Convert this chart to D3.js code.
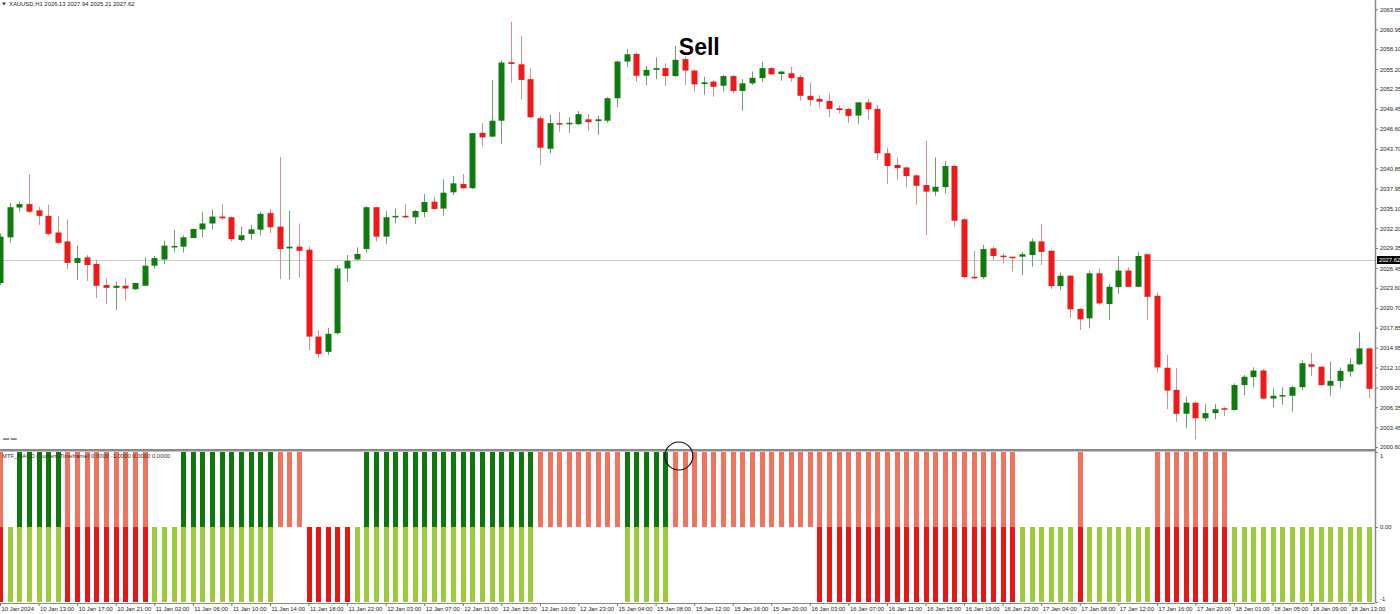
<!DOCTYPE html>
<html><head><meta charset="utf-8">
<script src="https://cdn.jsdelivr.net/npm/d3@7"></script>
<style>body{margin:0;background:#fff;} svg{display:block;font-family:"Liberation Sans",Arial,sans-serif;}</style>
</head><body>
<svg id="chart" width="1400" height="614"></svg>
<script>
// ---------- DATA ----------
const opens  = [2024.3,2030.9,2035.2,2035.7,2034.8,2034.0,2031.6,2030.3,2027.2,2028.0,2027.05,2024.0,2023.6,2023.9,2023.4,2023.9,2026.8,2027.7,2029.5,2029.55,2030.8,2032.05,2032.9,2033.9,2033.8,2030.5,2031.4,2032.0,2034.4,2032.45,2029.3,2029.55,2029.1,2016.55,2014.35,2017.05,2026.4,2027.7,2029.2,2035.25,2031.0,2033.8,2034.0,2033.8,2034.55,2036.05,2035.05,2037.4,2038.6,2038.0,2046.0,2045.45,2047.75,2056.2,2055.9,2053.75,2048.1,2043.7,2047.4,2047.3,2047.25,2047.95,2047.7,2047.75,2051.0,2056.3,2057.4,2054.25,2055.1,2055.35,2054.2,2056.65,2055.0,2053.05,2053.4,2052.8,2054.2,2052.05,2053.15,2053.9,2055.35,2054.5,2054.6,2054.05,2051.35,2050.9,2050.6,2049.55,2049.45,2048.5,2050.4,2049.45,2043.05,2041.35,2041.0,2039.85,2038.45,2037.5,2038.15,2041.2,2033.5,2025.2,2025.15,2029.3,2028.25,2028.1,2028.1,2028.35,2030.3,2028.95,2023.85,2025.35,2020.55,2019.2,2025.7,2021.25,2023.7,2026.1,2023.75,2028.45,2022.45,2012.05,2008.85,2005.4,2007.0,2004.75,2005.5,2006.2,2005.95,2009.55,2010.7,2011.65,2007.6,2007.9,2008.0,2009.25,2012.55,2012.2,2009.45,2010.15,2011.5,2012.55,2014.85];
const highs  = [2031.5,2035.9,2036.05,2040.05,2035.3,2035.6,2034.0,2033.5,2029.7,2028.35,2027.6,2025.0,2024.5,2025.0,2024.35,2028.0,2028.2,2030.4,2032.0,2031.2,2032.2,2034.6,2034.95,2035.7,2033.9,2032.45,2032.7,2034.6,2034.95,2042.5,2034.75,2032.9,2029.55,2017.5,2017.8,2026.9,2028.35,2029.45,2035.4,2035.3,2034.7,2035.05,2035.7,2034.85,2037.15,2036.7,2039.3,2039.75,2040.05,2046.0,2047.4,2053.65,2056.45,2062.05,2060.05,2055.35,2048.45,2048.6,2049.0,2048.25,2049.15,2048.7,2048.45,2051.15,2056.45,2058.1,2057.6,2055.65,2056.9,2056.05,2058.55,2057.0,2055.1,2054.1,2053.65,2054.35,2054.35,2053.75,2054.85,2056.3,2055.5,2054.95,2055.55,2054.35,2053.25,2051.45,2051.7,2050.0,2049.55,2050.5,2050.9,2050.0,2043.8,2042.45,2041.1,2040.05,2044.85,2042.45,2041.95,2041.35,2033.65,2028.95,2029.8,2029.55,2028.6,2028.1,2028.8,2030.75,2032.85,2029.1,2025.8,2025.45,2020.65,2026.1,2026.4,2024.15,2028.2,2026.6,2028.8,2028.5,2022.9,2013.9,2012.0,2007.9,2007.15,2006.8,2006.8,2006.35,2009.8,2011.0,2012.1,2011.85,2009.1,2009.2,2009.4,2013.1,2014.15,2012.3,2012.95,2012.1,2013.4,2017.25,2014.9];
const lows   = [2024.0,2030.1,2034.6,2034.4,2032.7,2031.2,2029.9,2026.3,2024.7,2024.6,2022.1,2021.3,2020.4,2021.75,2023.3,2023.85,2026.4,2027.05,2028.8,2028.7,2030.75,2030.9,2032.05,2033.4,2030.3,2030.3,2030.5,2031.2,2031.5,2024.85,2024.85,2025.1,2014.6,2013.5,2013.9,2016.8,2024.5,2027.5,2028.7,2030.3,2029.95,2032.9,2033.65,2032.8,2033.8,2034.85,2034.0,2037.0,2037.85,2037.9,2044.0,2045.4,2044.4,2053.25,2050.85,2048.1,2041.35,2043.05,2046.15,2046.0,2047.1,2046.3,2045.7,2047.45,2049.7,2055.5,2053.4,2052.9,2053.75,2052.8,2054.1,2052.9,2051.95,2051.5,2051.2,2051.95,2051.7,2049.2,2052.9,2053.4,2054.35,2053.55,2053.4,2050.65,2049.9,2049.7,2048.25,2048.8,2047.45,2047.3,2047.95,2042.1,2038.6,2039.2,2038.15,2035.6,2031.25,2036.9,2037.25,2032.45,2025.0,2024.85,2024.85,2027.6,2027.15,2025.95,2025.45,2026.65,2026.9,2023.4,2023.3,2019.2,2017.5,2017.75,2021.1,2018.95,2022.7,2023.7,2023.7,2018.95,2011.35,2006.05,2004.25,2003.3,2001.7,2004.4,2004.6,2005.1,2005.85,2008.1,2009.25,2007.5,2006.35,2006.7,2005.7,2008.85,2010.85,2009.4,2008.0,2009.1,2010.75,2012.45,2007.65];
const closes = [2031.0,2035.25,2035.7,2034.6,2034.0,2031.4,2030.1,2027.2,2027.9,2026.9,2023.9,2023.6,2023.9,2023.5,2024.3,2026.8,2027.9,2029.7,2029.65,2030.9,2032.1,2032.9,2033.9,2033.65,2030.65,2031.2,2032.05,2034.3,2032.35,2029.2,2029.55,2028.95,2016.55,2014.05,2016.95,2026.4,2027.5,2028.5,2035.25,2031.0,2033.8,2034.0,2033.8,2034.7,2036.0,2035.0,2037.35,2038.7,2038.0,2045.95,2045.35,2047.75,2056.15,2055.95,2053.65,2048.25,2043.85,2047.4,2047.25,2047.45,2048.7,2047.55,2047.95,2051.0,2056.3,2057.35,2054.25,2055.1,2055.35,2054.2,2056.55,2055.0,2053.0,2053.3,2052.65,2054.2,2052.05,2053.15,2053.95,2055.35,2054.45,2054.85,2053.9,2051.35,2050.75,2050.5,2049.45,2049.3,2048.45,2050.4,2049.4,2043.05,2041.2,2040.9,2039.75,2038.35,2037.5,2038.2,2041.2,2033.3,2025.15,2025.05,2029.2,2028.2,2028.05,2027.95,2028.45,2030.3,2028.8,2023.85,2025.35,2020.5,2019.05,2025.7,2021.35,2023.75,2026.1,2023.75,2028.2,2022.3,2012.1,2008.75,2005.4,2007.0,2004.75,2005.5,2006.05,2006.05,2009.55,2010.75,2011.65,2007.6,2008.0,2008.1,2009.25,2012.7,2012.2,2009.55,2010.15,2011.6,2012.55,2014.85,2009.0];

// MTF MACD indicator: run-length lists [state, count]
// upper half (+1): G = rising (dark green), S = falling (salmon), x = none
const macdUpperRuns = [["S",1],["x",1],["G",5],["S",9],["x",3],["G",10],["S",3],["x",6],["G",18],["S",9],["G",5],["S",36],["x",6],["S",1],["x",7],["S",8],["x",15]];
// lower half (-1): L = light green, R = red, x = none
const macdLowerRuns = [["R",1],["L",6],["R",9],["L",13],["x",3],["R",5],["L",19],["x",9],["L",5],["x",15],["R",21],["L",6],["R",1],["L",7],["R",8],["L",15]];

const timeLabels = ["10 Jan 2024","10 Jan 13:00","10 Jan 17:00","10 Jan 21:00","11 Jan 02:00","11 Jan 06:00","11 Jan 10:00","11 Jan 14:00","11 Jan 18:00","11 Jan 22:00","12 Jan 03:00","12 Jan 07:00","12 Jan 11:00","12 Jan 15:00","12 Jan 19:00","12 Jan 23:00","15 Jan 04:00","15 Jan 08:00","15 Jan 12:00","15 Jan 16:00","15 Jan 20:00","16 Jan 03:00","16 Jan 07:00","16 Jan 11:00","16 Jan 15:00","16 Jan 19:00","16 Jan 23:00","17 Jan 04:00","17 Jan 08:00","17 Jan 12:00","17 Jan 16:00","17 Jan 20:00","18 Jan 01:00","18 Jan 05:00","18 Jan 09:00","18 Jan 13:00"];
const priceTicks = [2063.85,2060.95,2058.10,2055.20,2052.35,2049.45,2046.60,2043.70,2040.85,2037.95,2035.10,2032.20,2029.35,2026.45,2023.60,2020.70,2017.85,2014.95,2012.10,2009.20,2006.35,2003.45,2000.60];
const macdTicks = [1, 0, -1];
const macdTickLabels = ["1","0.00","-1"];
const currentPrice = 2027.62;
const headerText = "XAUUSD,H1  2026.13 2027.94 2025.21 2027.62";
const indicatorText = "MTF_MACD (Current Timeframe) 0.0000 -1.0000 0.0000 0.0000";
const sellBar = 70;
const sellLabel = "Sell";

// ---------- BUILD ----------
const expand = runs => runs.flatMap(([s,n]) => Array(n).fill(s));
const macdUpper = expand(macdUpperRuns);
const macdLower = expand(macdLowerRuns);
const candles = opens.map((o,i)=>({i, o, h:highs[i], l:lows[i], c:closes[i]}));
const N = candles.length;

const svg = d3.select("#chart");
const axisX = 1375, mainBottom = 449, paneTop = 452, paneBottom = 602, axisY = 603;
const fs = 5.9, txt = "#222";

const x = d3.scaleLinear().domain([0, N-1]).range([0, 1369]);
const y = d3.scaleLinear().domain([2000.60, 2063.85]).range([447, 9.3]);
const yi = d3.scaleLinear().domain([-1, 1]).range([paneBottom, paneTop]);

const defs = svg.append("defs");
defs.append("clipPath").attr("id","clipMain").append("rect").attr("x",0).attr("y",0).attr("width",axisX).attr("height",mainBottom);
defs.append("clipPath").attr("id","clipPane").append("rect").attr("x",0).attr("y",paneTop-1).attr("width",axisX).attr("height",paneBottom-paneTop+1);

// current price line
svg.append("line").attr("x1",0).attr("x2",axisX).attr("y1",Math.round(y(currentPrice))+0.5).attr("y2",Math.round(y(currentPrice))+0.5)
  .attr("stroke","#c8c8c8").attr("stroke-width",1);

// candles
const gMain = svg.append("g").attr("clip-path","url(#clipMain)");
const bull = "#0f7b0f", bear = "#f01818";
const cg = gMain.selectAll("g.c").data(candles).join("g").attr("class","c");
cg.append("line")
  .attr("x1",d=>Math.round(x(d.i))+0.5).attr("x2",d=>Math.round(x(d.i))+0.5)
  .attr("y1",d=>y(d.h)).attr("y2",d=>y(d.l))
  .attr("stroke",d=>d.c>=d.o?"#6f9f6f":"#c89494").attr("stroke-width",1);
const bw = 6;
cg.append("rect")
  .attr("x",d=>Math.round(x(d.i))-bw/2+0.5)
  .attr("width",bw)
  .attr("y",d=>y(Math.max(d.o,d.c)))
  .attr("height",d=>Math.max(1.5, Math.abs(y(d.o)-y(d.c))))
  .attr("fill",d=>d.c>=d.o?bull:bear);

// Sell annotation
svg.append("text").attr("x",x(sellBar)+4).attr("y",y(2057.3))
  .attr("font-size",23).attr("font-weight","bold").attr("fill","#000").text(sellLabel);

// header
svg.append("path").attr("d","M2,2.5 L6,2.5 L4,5.5 Z").attr("fill","#333");
svg.append("text").attr("x",9).attr("y",6).attr("font-size",fs).attr("fill",txt).text(headerText);

// small window marks
svg.append("text").attr("x",3).attr("y",440).attr("font-size",6).attr("fill","#888").text("▬ ▬");

// indicator bars
const gPane = svg.append("g").attr("clip-path","url(#clipPane)");
const upColor = {G:"#0e780e", S:"#ef735e"};
const loColor = {L:"#9ccb3c", R:"#e51616"};
const ibw = 5;
gPane.selectAll("rect.up").data(macdUpper.map((s,i)=>({s,i})).filter(d=>d.s!=="x")).join("rect").attr("class","up")
  .attr("x",d=>Math.round(x(d.i))-ibw/2+0.5).attr("width",ibw)
  .attr("y",yi(1)).attr("height",yi(0)-yi(1)).attr("fill",d=>upColor[d.s]);
gPane.selectAll("rect.lo").data(macdLower.map((s,i)=>({s,i})).filter(d=>d.s!=="x")).join("rect").attr("class","lo")
  .attr("x",d=>Math.round(x(d.i))-ibw/2+0.5).attr("width",ibw)
  .attr("y",yi(0)).attr("height",yi(-1)-yi(0)).attr("fill",d=>loColor[d.s]);

svg.append("text").attr("x",2).attr("y",458).attr("font-size",fs).attr("fill","#333").text(indicatorText);

// separator and frame
svg.append("rect").attr("x",0).attr("y",449).attr("width",axisX+1).attr("height",2.5).attr("fill","#8a8a8a");
svg.append("line").attr("x1",axisX+0.5).attr("x2",axisX+0.5).attr("y1",0).attr("y2",axisY).attr("stroke","#8a8a8a").attr("stroke-width",1.5);
svg.append("line").attr("x1",0).attr("x2",axisX).attr("y1",axisY+0.5).attr("y2",axisY+0.5).attr("stroke","#8a8a8a").attr("stroke-width",1);

// circle annotation
svg.append("circle").attr("cx",x(sellBar)+4).attr("cy",yi(1)+4).attr("r",14).attr("fill","none").attr("stroke","#111").attr("stroke-width",1.2);

// price axis
const pAxis = svg.append("g").attr("transform",`translate(${axisX},0)`)
  .call(d3.axisRight(y).tickValues(priceTicks).tickFormat(d3.format(".2f")).tickSize(3).tickPadding(2));
pAxis.select(".domain").remove();
pAxis.selectAll("line").attr("stroke","#777");
pAxis.selectAll("text").attr("font-size",fs).attr("fill",txt).attr("font-family","Liberation Sans, Arial, sans-serif");

// current price label box
const cpY = y(currentPrice);
svg.append("rect").attr("x",axisX+2).attr("y",cpY-4).attr("width",25).attr("height",8).attr("fill","#000");
svg.append("text").attr("x",axisX+4).attr("y",cpY+2.2).attr("font-size",fs).attr("fill","#fff").text(d3.format(".2f")(currentPrice));

// macd axis
const mAxis = svg.append("g").attr("transform",`translate(${axisX},0)`)
  .call(d3.axisRight(yi).tickValues(macdTicks).tickFormat((d,i)=>macdTickLabels[i]).tickSize(3).tickPadding(2));
mAxis.select(".domain").remove();
mAxis.selectAll("line").attr("stroke","#777");
mAxis.selectAll("text").attr("font-size",fs).attr("fill",txt).attr("font-family","Liberation Sans, Arial, sans-serif")
  .attr("dy",(d)=> d===1 ? "0.9em" : d===-1 ? "-0.2em" : "0.32em");

// time axis
const tAxis = svg.append("g").attr("transform",`translate(0,${axisY})`)
  .call(d3.axisBottom(x).tickValues(timeLabels.map((_,k)=>k*4)).tickFormat((d,k)=>timeLabels[k]).tickSize(3).tickPadding(1));
tAxis.select(".domain").remove();
tAxis.selectAll("line").attr("stroke","#777");
tAxis.selectAll("text").attr("font-size",fs).attr("fill",txt).attr("text-anchor","start").attr("dx",1)
  .attr("font-family","Liberation Sans, Arial, sans-serif");
</script>
</body></html>
